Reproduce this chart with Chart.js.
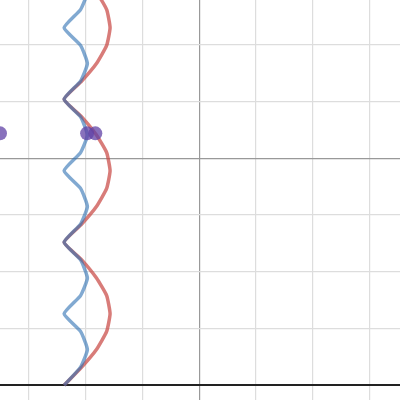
<!DOCTYPE html>
<html>
<head>
<script src="https://cdn.jsdelivr.net/npm/chart.js@4"></script>
<style>
  html, body { margin: 0; padding: 0; background: #fff; }
  #wrap { width: 400px; height: 400px; }
</style>
</head>
<body>
<div id="wrap"><canvas id="c"></canvas></div>
<script>
// ── Data ──
const curveY = [0, 0.32, 0.63, 0.95, 1.26, 1.58, 1.89, 2.21, 2.52, 2.84, 3.15, 3.47, 3.78,
  4.10, 4.41, 4.73, 5.04, 5.36, 5.67, 5.99, 6.30, 6.62, 6.93, 7.25, 7.56];
const redX = [-2.38, -2.07, -1.81, -1.63, -1.57, -1.63, -1.81, -2.07, -2.38, -2.07, -1.81, -1.63, -1.57,
  -1.63, -1.81, -2.07, -2.38, -2.07, -1.81, -1.63, -1.57, -1.63, -1.81, -2.07, -2.38];
const blueX = [-2.38, -2.09, -1.97, -2.09, -2.38, -2.09, -1.97, -2.09, -2.38, -2.09, -1.97, -2.09, -2.38,
  -2.09, -1.97, -2.09, -2.38, -2.09, -1.97, -2.09, -2.38, -2.09, -1.97, -2.09, -2.38];
const dotX = [-3.51, -1.975, -1.83];
const dotY = [4.44, 4.44, 4.44];
const xRange = [-3.51, 3.54];
const yRange = [-0.26, 6.79];

const toPts = (xs, ys) => xs.map((x, i) => ({ x, y: ys[i] }));

function intTicks(scale) {
  const t = [];
  for (let v = Math.ceil(scale.min); v <= Math.floor(scale.max); v++) t.push({ value: v });
  scale.ticks = t;
}

function gridColor(axis) {
  return ctx => {
    const v = ctx.tick && ctx.tick.value;
    if (axis === 'y' && v === 0) return '#222';
    if (axis === 'x' && v === 0) return '#999';
    if (axis === 'y' && v === 4) return '#999';
    return '#ddd';
  };
}

new Chart(document.getElementById('c'), {
  type: 'scatter',
  data: {
    datasets: [
      { data: toPts(dotX, dotY), backgroundColor: 'rgba(96,66,166,0.75)', borderWidth: 0, pointRadius: 7, showLine: false },
      { data: toPts(blueX, curveY), borderColor: 'rgba(45,112,179,0.6)', borderWidth: 3.5, pointRadius: 0, showLine: true, tension: 0.15 },
      { data: toPts(redX, curveY), borderColor: 'rgba(199,68,64,0.7)', borderWidth: 3.5, pointRadius: 0, showLine: true, tension: 0.15 },
    ],
  },
  options: {
    responsive: true,
    maintainAspectRatio: false,
    animation: false,
    layout: { padding: 0, autoPadding: false },
    plugins: { legend: { display: false }, tooltip: { enabled: false } },
    scales: {
      x: {
        type: 'linear', min: xRange[0], max: xRange[1],
        afterBuildTicks: intTicks,
        ticks: { display: false, padding: 0 },
        border: { display: false },
        grid: { color: gridColor('x'), lineWidth: 1.2, drawTicks: false, tickLength: 0 },
      },
      y: {
        type: 'linear', min: yRange[0], max: yRange[1],
        afterBuildTicks: intTicks,
        ticks: { display: false, padding: 0 },
        border: { display: false },
        grid: { color: gridColor('y'), lineWidth: ctx => (ctx.tick && ctx.tick.value === 0 ? 2 : 1.2), drawTicks: false, tickLength: 0 },
      },
    },
  },
});
</script>
</body>
</html>
